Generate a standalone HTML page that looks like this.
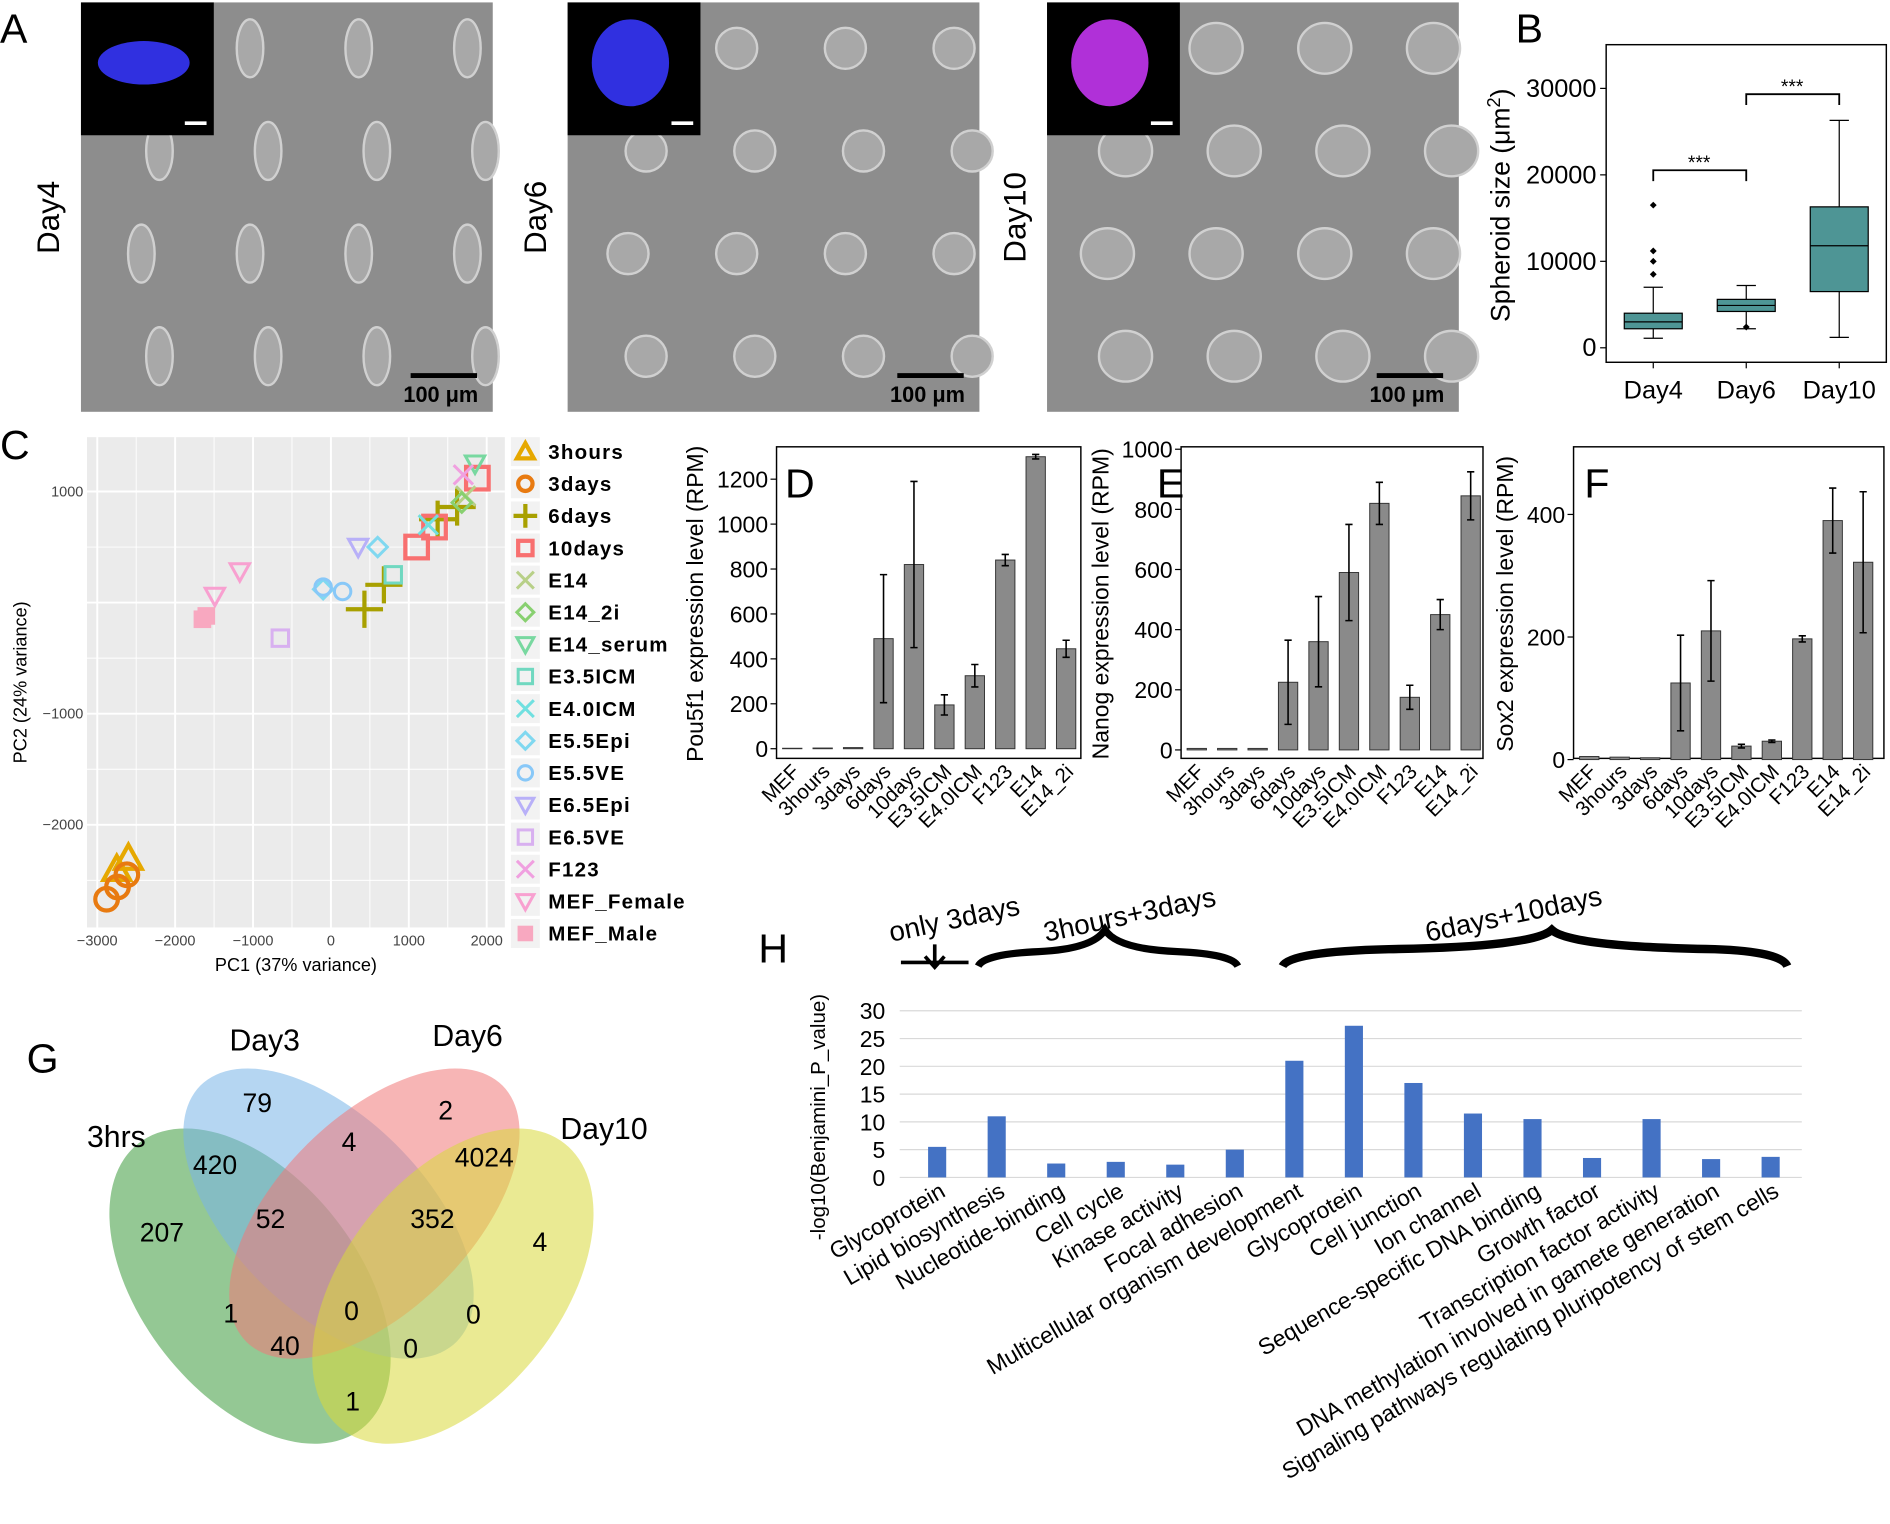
<!DOCTYPE html>
<html><head><meta charset="utf-8"><style>
html,body{margin:0;padding:0;background:#fff}
svg{display:block;font-family:"Liberation Sans",sans-serif}
</style></head><body>
<svg id="fig" width="1890" height="1524" viewBox="0 0 1565 1262" xmlns="http://www.w3.org/2000/svg">
<g id="root"></g>
</svg>
<script>
// ---- data ----
const barCats = ["MEF","3hours","3days","6days","10days","E3.5ICM","E4.0ICM","F123","E14","E14_2i"];
const pouVals = [2,3,5,490,820,195,325,840,1300,445];
const pouErr  = [0,0,0,285,370,45,50,25,10,38];
const nanogVals = [5,5,5,225,360,590,820,175,450,845];
const nanogErr  = [0,0,0,140,150,160,70,40,50,80];
const sox2Vals = [5,4,3,125,210,22,30,197,390,322];
const sox2Err  = [0,0,0,78,82,3,2,5,53,115];
const boxCats = ["Day4","Day6","Day10"];
const boxMin = [1100,2200,1200];
const boxQ1 = [2200,4200,6500];
const boxMed = [3000,4900,11800];
const boxQ3 = [4000,5600,16300];
const boxMax = [7000,7200,26300];
const boxOutliers = [[8500,10000,11200,16500],[2400],[]];
const goTerms = ["Glycoprotein","Lipid biosynthesis","Nucleotide-binding","Cell cycle","Kinase activity","Focal adhesion","Multicellular organism development","Glycoprotein","Cell junction","Ion channel","Sequence-specific DNA binding","Growth factor","Transcription factor activity","DNA methylation involved in gamete generation","Signaling pathways regulating pluripotency of stem cells"];
const goVals = [5.5,11,2.5,2.8,2.3,5,21,27.3,17,11.5,10.5,3.5,10.5,3.3,3.7];
const pcaGroups = ["3hours","3days","6days","10days","E14","E14_2i","E14_serum","E3.5ICM","E4.0ICM","E5.5Epi","E5.5VE","E6.5Epi","E6.5VE","F123","MEF_Female","MEF_Male"];
const pcaColors = ["#e6a800","#e87a10","#a8a000","#f87070","#b8d088","#88d070","#78d8a0","#70d8c0","#70e0e0","#80d8f0","#88c8f8","#b8b0f8","#d8b0f0","#f0a0e0","#f8a0d0","#f8a8c0"];
const pcaX = [[-2750,-2600],[-2880,-2740,-2620],[430,680,1370,1620],[1100,1330,1880],[1730],[1680],[1850],[800],[1250],[600,-100],[-100,150],[350],[-650],[1700],[-1170,-1490],[-1650,-1600]];
const pcaY = [[-2400,-2300],[-2670,-2560,-2450],[-60,160,750,860],[500,680,1120],[960],[900],[1250],[250],[700],[500,120],[140,100],[500],[-320],[1150],[280,60],[-150,-120]];
const pcaXTicks = [-3000,-2000,-1000,0,1000,2000];
const pcaYTicks = [1000,-1000,-2000];

const NS="http://www.w3.org/2000/svg";
const root=document.getElementById('root');
function el(tag,attrs,parent,text){const e=document.createElementNS(NS,tag);for(const k in attrs)e.setAttribute(k,attrs[k]);if(text!==undefined)e.textContent=text;(parent||root).appendChild(e);return e;}

// ---- Panel A micrographs ----
const micro=[[67,"Day4"],[470,"Day6"],[867,"Day10"]];
micro.forEach((m,i)=>{
  const g=el('g',{});
  
  
  el('rect',{x:m[0],y:2,width:341,height:339,fill:'#8d8d8d'},g);
  for(let r=0;r<4;r++)for(let c=0;c<4;c++){
    const cx=m[0]+50+c*90+(r%2)*15, cy=40+r*85;
    el('ellipse',{cx:cx,cy:cy,rx:i==0?11:(i==1?17:22),ry:i==0?24:(i==1?17:21),fill:'#a8a8a8',stroke:'#d0d0d0','stroke-width':2},g);
  }
  el('rect',{x:m[0],y:2,width:110,height:110,fill:'#000'},g);
  el('ellipse',{cx:m[0]+52,cy:52,rx:i==0?38:32,ry:i==0?18:36,fill:i==2?'#b030d8':'#3030e0'},g);
  el('line',{x1:m[0]+86,y1:102,x2:m[0]+104,y2:102,stroke:'#fff','stroke-width':3},g);
  el('line',{x1:m[0]+273,y1:311,x2:m[0]+328,y2:311,stroke:'#000','stroke-width':4},g);
  el('text',{x:m[0]+267,y:333,'font-size':18,'font-weight':'bold'},g,'100 μm');
  const t=el('text',{x:0,y:0,'font-size':26,transform:`translate(${m[0]-18},180) rotate(-90)`,'text-anchor':'middle'},root,m[1]);
  
  
});
const panelLetters=[["A",0,35],["B",1255,35],["C",0,380],["D",650,412],["E",958,412],["F",1312,412],["G",22,888],["H",628,797]];
panelLetters.forEach(p=>{const t=el('text',{x:p[1],y:p[2],'font-size':34},root,p[0]);});

// ---- Panel B box plot ----
(function(){
  const X0=1330,X1=1562,Y0=37,Y1=300;
  const y=v=>288-v*0.00716;
  const g=el('g',{});
  el('rect',{x:X0,y:Y0,width:X1-X0,height:Y1-Y0,fill:'none',stroke:'#000','stroke-width':1.2},g);
  [0,10000,20000,30000].forEach(v=>{el('line',{x1:X0-5,x2:X0,y1:y(v),y2:y(v),stroke:'#000'},g);el('text',{x:X0-8,y:y(v)+7,'font-size':21,'text-anchor':'end'},g,v);});
  const t=el('text',{transform:`translate(1250,170) rotate(-90)`,'font-size':22,'text-anchor':'middle'},g,'Spheroid size (μm');
  el('tspan',{dy:-8,'font-size':15},t,'2');el('tspan',{dy:8},t,')');
  boxCats.forEach((c,i)=>{
    const cx=1369+i*77;
    el('line',{x1:cx,x2:cx,y1:y(boxMin[i]),y2:y(boxMax[i]),stroke:'#000'},g);
    el('line',{x1:cx-8,x2:cx+8,y1:y(boxMin[i]),y2:y(boxMin[i]),stroke:'#000'},g);
    el('line',{x1:cx-8,x2:cx+8,y1:y(boxMax[i]),y2:y(boxMax[i]),stroke:'#000'},g);
    const b=el('rect',{x:cx-24,y:y(boxQ3[i]),width:48,height:y(boxQ1[i])-y(boxQ3[i]),fill:'#4e9595',stroke:'#000'},g);
    
    el('line',{x1:cx-24,x2:cx+24,y1:y(boxMed[i]),y2:y(boxMed[i]),stroke:'#000'},g);
    boxOutliers[i].forEach(o=>el('rect',{x:cx-2,y:y(o)-2,width:4,height:4,fill:'#000',transform:`rotate(45 ${cx} ${y(o)})`},g));
    el('line',{x1:cx,x2:cx,y1:Y1,y2:Y1+5,stroke:'#000'},g);
    el('text',{x:cx,y:330,'font-size':21,'text-anchor':'middle'},g,c);
  });
  el('path',{d:'M1369,150 V141 H1446 V150',fill:'none',stroke:'#000','stroke-width':1.5},g);
  el('text',{x:1407,y:140,'font-size':16,'text-anchor':'middle'},g,'***');
  el('path',{d:'M1446,87 V78 H1523 V87',fill:'none',stroke:'#000','stroke-width':1.5},g);
  el('text',{x:1484,y:77,'font-size':16,'text-anchor':'middle'},g,'***');
})();

// ---- Panel C PCA ----
(function(){
  const X0=72,X1=418,Y0=362,Y1=768;
  const x=v=>274+v*0.0645, y=v=>499-v*0.092;
  const g=el('g',{});
  el('rect',{x:X0,y:Y0,width:X1-X0,height:Y1-Y0,fill:'#ebebeb'},g);
  for(let v=-3500;v<=2000;v+=500){const major=v%1000==0;el('line',{x1:x(v),x2:x(v),y1:Y0,y2:Y1,stroke:'#fff','stroke-width':major?1.6:0.8},g);}
  for(let v=-2500;v<=1500;v+=500){const major=v%1000==0;el('line',{y1:y(v),y2:y(v),x1:X0,x2:X1,stroke:'#fff','stroke-width':major?1.6:0.8},g);}
  pcaXTicks.forEach(v=>el('text',{x:x(v),y:783,'font-size':12,'text-anchor':'middle','fill':'#444'},g,v===0?'0':String(v).replace('-','−')));
  pcaYTicks.forEach(v=>el('text',{x:X0-3,y:y(v)+4,'font-size':12,'text-anchor':'end','fill':'#444'},g,String(v).replace('-','−')));
  el('text',{x:245,y:804,'font-size':15,'text-anchor':'middle'},g,'PC1 (37% variance)');
  el('text',{transform:'translate(22,565) rotate(-90)','font-size':15,'text-anchor':'middle'},g,'PC2 (24% variance)');
  function marker(k,cx,cy,s,parent){
    const c=pcaColors[k],sw=k<4?3.5:2.5,o={fill:'none',stroke:c,'stroke-width':sw};
    if(k==0) return el('polygon',Object.assign({points:`${cx},${cy-s} ${cx+s},${cy+s*0.8} ${cx-s},${cy+s*0.8}`},o),parent);
    if(k==1||k==10) return el('circle',Object.assign({cx:cx,cy:cy,r:s*0.85},o),parent);
    if(k==2) return el('path',Object.assign({d:`M${cx-s*1.4},${cy}H${cx+s*1.4}M${cx},${cy-s*1.4}V${cy+s*1.4}`},o),parent);
    if(k==3||k==7||k==12||k==15) return el('rect',Object.assign({x:cx-s*0.85,y:cy-s*0.85,width:s*1.7,height:s*1.7},k==15?{fill:c,stroke:c}:o),parent);
    if(k==4||k==8||k==13) return el('path',Object.assign({d:`M${cx-s},${cy-s}L${cx+s},${cy+s}M${cx-s},${cy+s}L${cx+s},${cy-s}`},o),parent);
    if(k==5||k==9) return el('polygon',Object.assign({points:`${cx},${cy-s} ${cx+s},${cy} ${cx},${cy+s} ${cx-s},${cy}`},o),parent);
    return el('polygon',Object.assign({points:`${cx},${cy+s} ${cx+s},${cy-s*0.8} ${cx-s},${cy-s*0.8}`},o),parent);
  }
  pcaGroups.forEach((grp,k)=>{
    pcaX[k].forEach((vx,j)=>{
      const m=marker(k,x(vx),y(pcaY[k][j]),k<4?11:8,g);
      
      
    });
    const ly=375+k*26.6;
    const lg=el('g',{},g);
    el('rect',{x:423,y:ly-13,width:24,height:24,fill:'#f2f2f2'},lg);
    marker(k,435,ly-1,7,lg);
    el('text',{x:454,y:ly+5,'font-size':17,'font-weight':'bold','letter-spacing':1},lg,grp);
  });
})();

// ---- Panels D,E,F bar charts ----
function barChart(name,X0,X1,y0,scale,ticks,vals,errs,ylabel,ylx){
  const g=el('g',{});
  const y=v=>y0-v*scale;
  el('rect',{x:X0,y:370,width:X1-X0,height:258,fill:'none',stroke:'#000','stroke-width':1.2},g);
  ticks.forEach(v=>{el('line',{x1:X0-5,x2:X0,y1:y(v),y2:y(v),stroke:'#000'},g);el('text',{x:X0-7,y:y(v)+7,'font-size':19,'text-anchor':'end'},g,v);});
  el('text',{transform:`translate(${ylx},500) rotate(-90)`,'font-size':19,'text-anchor':'middle'},g,ylabel);
  barCats.forEach((c,i)=>{
    const cx=X0+13+i*25.2;
    const b=el('rect',{x:cx-8,y:y(vals[i]),width:16,height:y0-y(vals[i]),fill:'#8a8a8a',stroke:'#333','stroke-width':0.8},g);
    
    if(errs[i]>0){const t=y(vals[i]+errs[i]),bt=y(vals[i]-errs[i]);
      el('path',{d:`M${cx},${t}V${bt}M${cx-3},${t}H${cx+3}M${cx-3},${bt}H${cx+3}`,stroke:'#000','stroke-width':1.3,fill:'none'},g);}
    el('text',{transform:`translate(${cx+7},640) rotate(-45)`,'font-size':17,'text-anchor':'end'},g,c);
  });
}
barChart('pou5f1-chart',643,895,620,0.186,[0,200,400,600,800,1000,1200],pouVals,pouErr,'Pou5f1 expression level (RPM)',582);
barChart('nanog-chart',978,1228,621,0.249,[0,200,400,600,800,1000],nanogVals,nanogErr,'Nanog expression level (RPM)',918);
barChart('sox2-chart',1303,1560,629,0.5075,[0,200,400],sox2Vals,sox2Err,'Sox2 expression level (RPM)',1253);

// ---- Panel G Venn ----
(function(){
  const g=el('g',{});
  const ells=[['green','#3c9a3c',207,1065,90,150,-38],['blue','#78b4e8',272,1005,80,150,-45],['red','#f07878',310,1005,80,150,45],['yellow','#d8d83a',375,1065,90,150,38]];
  ells.forEach(e=>{const s=el('ellipse',{cx:e[2],cy:e[3],rx:e[4],ry:e[5],fill:e[1],'fill-opacity':0.55,transform:`rotate(${e[6]} ${e[2]} ${e[3]})`},g);
    });
  [["3hrs",72,950],["Day3",190,870],["Day6",358,866],["Day10",464,943]].forEach(l=>el('text',{x:l[1],y:l[2],'font-size':25},g,l[0]));
  [["79",213,921],["2",369,927],["420",178,972],["4",289,953],["4024",401,966],["207",134,1028],["52",224,1017],["352",358,1017],["4",447,1036],["1",191,1095],["0",291,1093],["0",392,1096],["40",236,1122],["0",340,1124],["1",292,1168]]
    .forEach(n=>el('text',{x:n[1],y:n[2],'font-size':22,'text-anchor':'middle'},g,n[0]));
})();

// ---- Panel H GO bars ----
(function(){
  const g=el('g',{});
  const y=v=>975-v*4.6;
  [0,5,10,15,20,25,30].forEach(v=>{el('line',{x1:745,x2:1492,y1:y(v),y2:y(v),stroke:'#d9d9d9'},g);el('text',{x:733,y:y(v)+7,'font-size':19,'text-anchor':'end'},g,v);});
  el('text',{transform:'translate(683,925) rotate(-90)','font-size':17,'text-anchor':'middle'},g,'-log10(Benjamini_P_value)');
  goTerms.forEach((t,i)=>{
    const cx=776+i*49.3;
    const b=el('rect',{x:cx-7.5,y:y(goVals[i]),width:15,height:975-y(goVals[i]),fill:'#4472c4'},g);
    
    el('text',{transform:`translate(${cx+8},990) rotate(-30)`,'font-size':19,'text-anchor':'end'},g,t);
  });
  el('text',{transform:'translate(738,780) rotate(-12)','font-size':23},g,'only 3days');
  el('path',{d:'M746,797 H802 M774,782 V800 M766,792 L774,801 L782,792',stroke:'#000','stroke-width':3,fill:'none'},g);
  el('text',{transform:'translate(866,780) rotate(-12)','font-size':23},g,'3hours+3days');
  el('path',{d:'M810,800 Q815,790 860,788 Q905,786 915,770 Q925,786 975,788 Q1020,790 1025,800',stroke:'#000','stroke-width':6,fill:'none'},g);
  el('text',{transform:'translate(1182,780) rotate(-12)','font-size':23},g,'6days+10days');
  el('path',{d:'M1062,800 Q1068,788 1150,786 Q1270,784 1285,770 Q1300,784 1420,786 Q1475,788 1480,800',stroke:'#000','stroke-width':7,fill:'none'},g);
})();
</script>
</body></html>
